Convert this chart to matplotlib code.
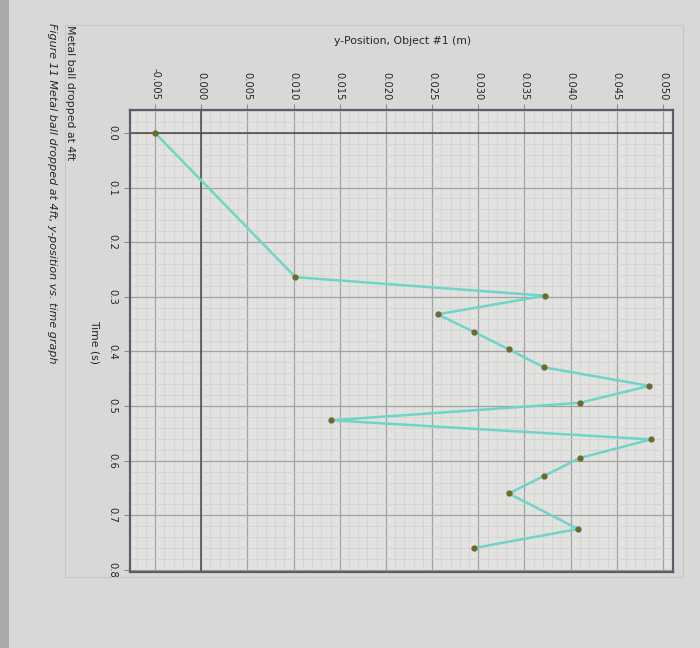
import matplotlib
matplotlib.use("Agg")
from matplotlib import pyplot as plt
from matplotlib.patches import Rectangle
from matplotlib.ticker import MultipleLocator, FormatStrFormatter

time_s = [0.0, 0.264, 0.298, 0.332, 0.364, 0.396, 0.429, 0.463, 0.494,
          0.526, 0.561, 0.595, 0.628, 0.660, 0.725, 0.760]
y_pos = [-0.005, 0.0102, 0.0372, 0.0256, 0.0295, 0.0333, 0.0371, 0.0485,
         0.041, 0.0141, 0.0487, 0.041, 0.0371, 0.0333, 0.0408, 0.0295]

pos_ticks = [-0.005, 0.000, 0.005, 0.010, 0.015, 0.020, 0.025, 0.030,
             0.035, 0.040, 0.045, 0.050]
time_ticks = [0.0, 0.1, 0.2, 0.3, 0.4, 0.5, 0.6, 0.7, 0.8]

W, H = 700, 648
bg = "#d8d8d6"
txt = "#262626"

fig = plt.figure(figsize=(W / 100, H / 100), dpi=100, facecolor=bg)

# dark bezel strip on the left edge of the photo
fig.patches.append(Rectangle((0, 0), 9 / W, 1, transform=fig.transFigure,
                             facecolor="#a9a9a7", edgecolor="none", zorder=0))
# faint outline of the original figure page
fig.patches.append(Rectangle((65 / W, 1 - 577 / H), 618 / W, 552 / H,
                             transform=fig.transFigure, facecolor="none",
                             edgecolor="#c6c6c4", lw=0.8, zorder=0))

# the chart is photographed rotated: time runs down, position runs right
ax = fig.add_axes([130 / W, 1 - 572 / H, 543 / W, 462 / H])
ax.set_facecolor("#e2e2e0")
ax.plot(y_pos, time_s, color="#6fd5c9", lw=1.8, zorder=3)
ax.plot(y_pos, time_s, ls="none", marker="o", ms=3.5, color="#6e6a2e", zorder=4)

ax.set_xlim(-0.00771, 0.05108)
ax.set_ylim(0.8037, -0.042)

ax.xaxis.tick_top()
ax.set_xticks(pos_ticks)
ax.set_yticks(time_ticks)
ax.xaxis.set_major_formatter(FormatStrFormatter("%.3f"))
ax.yaxis.set_major_formatter(FormatStrFormatter("%.1f"))
ax.xaxis.set_minor_locator(MultipleLocator(0.001))
ax.yaxis.set_minor_locator(MultipleLocator(0.02))

ax.tick_params(axis="x", which="major", labelrotation=-90, labelsize=7.2,
               length=4, pad=3, color="#8a8a8a", labelcolor=txt)
ax.tick_params(axis="y", which="major", labelrotation=-90, labelsize=7.2,
               length=4, pad=5, color="#8a8a8a", labelcolor=txt)
ax.tick_params(which="minor", length=0)
for lbl in ax.get_yticklabels():
    lbl.set_va("center")

ax.grid(which="major", color="#a2a2a2", lw=0.9)
ax.grid(which="minor", color="#d0d0ce", lw=0.5)
ax.set_axisbelow(True)
ax.axvline(0, color="#4a4a4a", lw=1.1, zorder=2)
ax.axhline(0, color="#4a4a4a", lw=1.1, zorder=2)
for s in ax.spines.values():
    s.set_color("#5c5c6a")
    s.set_linewidth(1.6)

fig.text(403 / W, 1 - 41 / H, "y-Position, Object #1 (m)", ha="center",
         va="center", fontsize=7.8, color=txt)
fig.text(95 / W, 1 - 342 / H, "Time (s)", ha="center", va="center",
         rotation=-90, fontsize=7.8, color=txt)
fig.text(70 / W, 1 - 25 / H, "Metal ball dropped at 4ft", ha="center",
         va="top", rotation=-90, fontsize=7.8, color=txt)
fig.text(52 / W, 1 - 23 / H,
         "Figure 11 Metal ball dropped at 4ft, y-position vs. time graph",
         ha="center", va="top", rotation=-90, fontsize=8,
         style="italic", color=txt)

fig.savefig("out.png", dpi=100, facecolor=bg)
